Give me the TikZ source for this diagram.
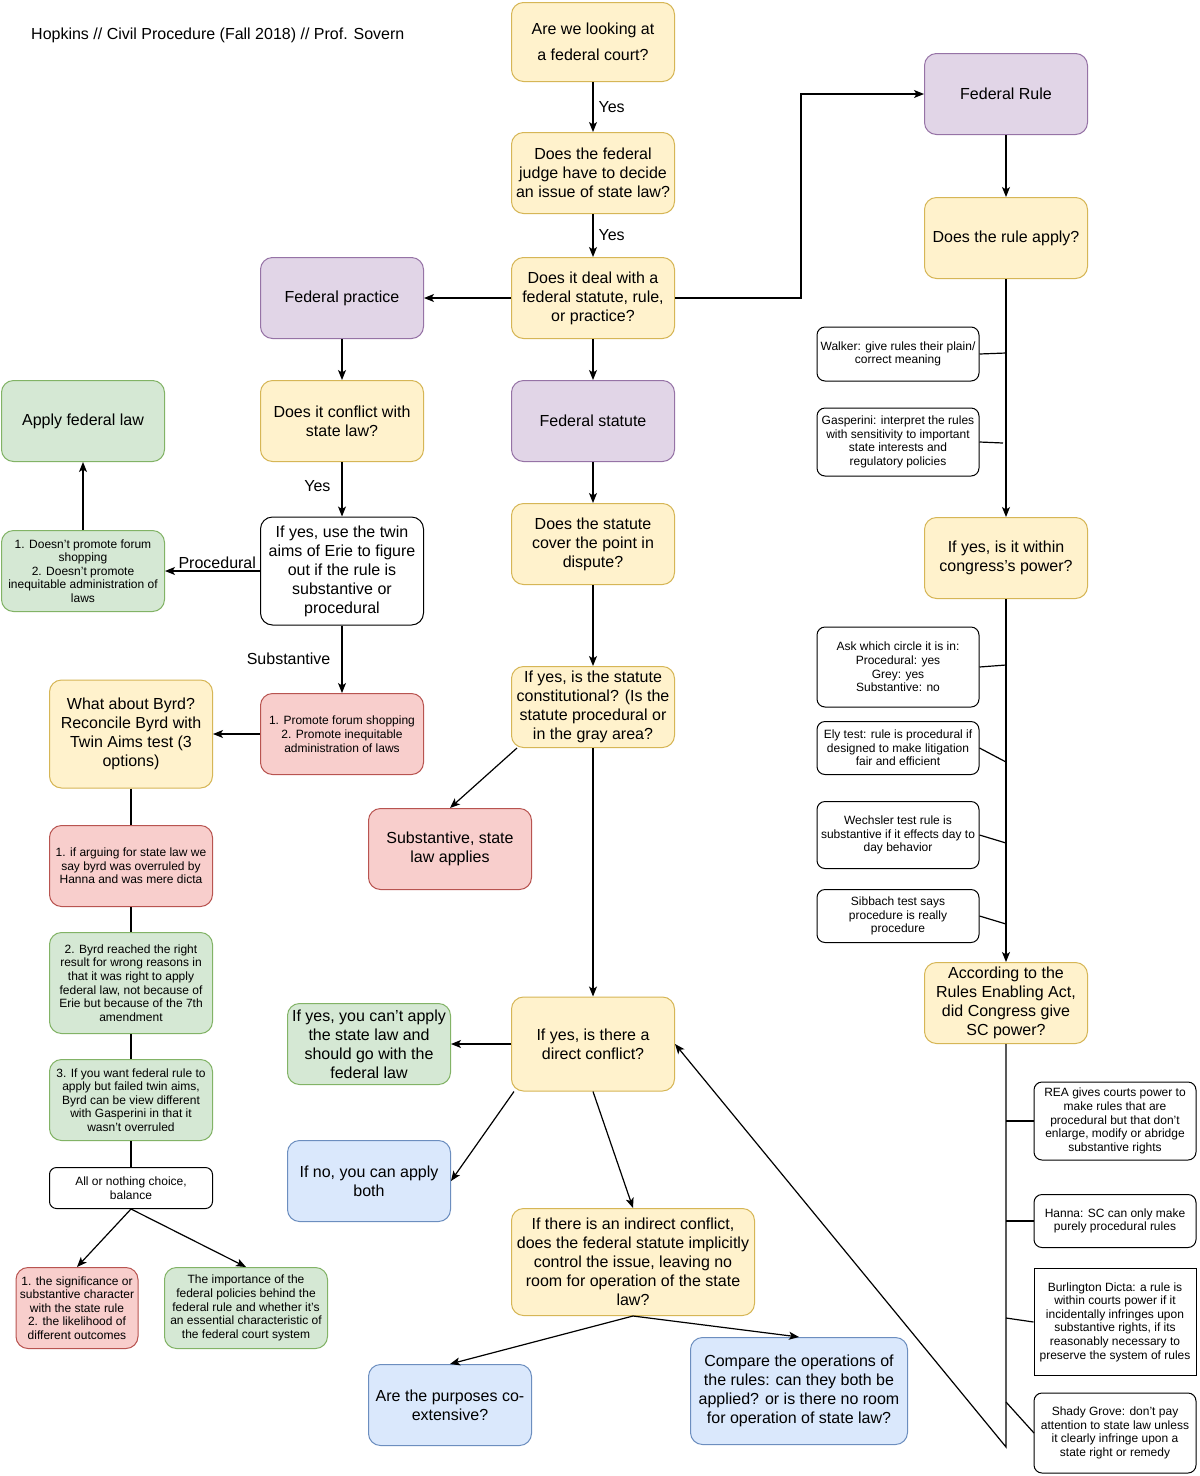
\documentclass[tikz,border=0pt]{standalone}
\usepackage{fontspec}
\setmainfont{Liberation Sans}
\usetikzlibrary{arrows.meta}
\definecolor{yfill}{HTML}{FFF2CC}\definecolor{ystroke}{HTML}{D6B656}
\definecolor{pfill}{HTML}{E1D5E7}\definecolor{pstroke}{HTML}{9673A6}
\definecolor{gfill}{HTML}{D5E8D4}\definecolor{gstroke}{HTML}{82B366}
\definecolor{rfill}{HTML}{F8CECC}\definecolor{rstroke}{HTML}{B85450}
\definecolor{bfill}{HTML}{DAE8FC}\definecolor{bstroke}{HTML}{6C8EBF}
\tikzset{
  box/.style={rounded corners=12, draw, line width=1, minimum width=163, minimum height=81, align=center, inner sep=2, font=\fontsize{16}{19}\selectfont},
  yel/.style={box, fill=yfill, draw=ystroke},
  pur/.style={box, fill=pfill, draw=pstroke},
  grn/.style={box, fill=gfill, draw=gstroke},
  red/.style={box, fill=rfill, draw=rstroke},
  blu/.style={box, fill=bfill, draw=bstroke},
  wht/.style={box, fill=white, draw=black},
  small/.style={font=\fontsize{12}{13.6}\selectfont},
  note/.style={rounded corners=8, draw=black, fill=white, line width=1, minimum width=162, align=center, inner sep=2, font=\fontsize{12}{13.6}\selectfont},
  arr/.style={line width=1.2, -{Stealth[length=10pt,width=8pt,inset=2.5pt]}},
  ln/.style={line width=1.2},
  lbl/.style={font=\fontsize{16}{18}\selectfont, inner sep=1}
}
\begin{document}
\begin{tikzpicture}[x=1pt,y=-1pt]
\useasboundingbox (0,0) rectangle (1200,1476);
\fill[white] (0,0) rectangle (1200,1476);
\node[lbl, anchor=west] (title) at (30,35) {Hopkins // Civil Procedure (Fall 2018) // Prof. Sovern};

% center column
\node[yel, minimum height=79] (q1) at (593,42) {Are we looking at\\[7pt]a federal court?};
\node[yel] (q2) at (593,173) {Does the federal\\judge have to decide\\an issue of state law?};
\node[yel] (q3) at (593,298) {Does it deal with a\\federal statute, rule,\\or practice?};
\node[pur] (fs) at (593,421) {Federal statute};
\node[yel] (q4) at (593,544) {Does the statute\\cover the point in\\dispute?};
\node[yel] (q5) at (593,707) {If yes, is the statute\\constitutional? (Is the\\statute procedural or\\in the gray area?};
\node[yel, minimum height=94] (q6) at (593,1044) {If yes, is there a\\direct conflict?};
\node[yel, minimum width=243, minimum height=107] (q7) at (633,1262) {If there is an indirect conflict,\\does the federal statute implicitly\\control the issue, leaving no\\room for operation of the state\\law?};

% left-center column
\node[pur] (fp) at (342,298) {Federal practice};
\node[yel] (c1) at (342,421) {Does it conflict with\\state law?};
\node[wht, minimum height=108] (twin) at (342,571) {If yes, use the twin\\aims of Erie to figure\\out if the rule is\\substantive or\\procedural};
\node[red, font=\fontsize{12}{14}\selectfont] (prom) at (342,734) {1. Promote forum shopping\\2. Promote inequitable\\administration of laws};
\node[red] (subst) at (450,849) {Substantive, state\\law applies};
\node[grn] (yesg) at (369,1044) {If yes, you can't apply\\the state law and\\should go with the\\federal law};
\node[blu] (ifno) at (369,1181) {If no, you can apply\\both};
\node[blu] (purp) at (450,1405) {Are the purposes co-\\extensive?};
\node[blu, minimum width=217, minimum height=107] (comp) at (799,1391) {Compare the operations of\\the rules: can they both be\\applied? or is there no room\\for operation of state law?};

% far left column
\node[grn] (apply) at (83,421) {Apply federal law};
\node[grn, small] (doesnt) at (83,571) {1. Doesn't promote forum\\shopping\\2. Doesn't promote\\inequitable administration of\\laws};
\node[yel, minimum height=108] (byrd) at (131,734) {What about Byrd?\\Reconcile Byrd with\\Twin Aims test (3\\options)};
\node[red, small] (byrd1) at (131,866) {1. if arguing for state law we\\say byrd was overruled by\\Hanna and was mere dicta};
\node[grn, small, minimum height=101] (byrd2) at (131,983) {2. Byrd reached the right\\result for wrong reasons in\\that it was right to apply\\federal law, not because of\\Erie but because of the 7th\\amendment};
\node[grn, small] (byrd3) at (131,1100) {3. If you want federal rule to\\apply but failed twin aims,\\Byrd can be view different\\with Gasperini in that it\\wasn't overruled};
\node[wht, small, minimum height=41, rounded corners=7] (alln) at (131,1188) {All or nothing choice,\\balance};
\node[red, small, minimum width=122] (sig) at (77,1308) {1. the significance or\\substantive character\\with the state rule\\2. the likelihood of\\different outcomes};
\node[grn, small] (imp) at (246,1308) {The importance of the\\federal policies behind the\\federal rule and whether it's\\an essential characteristic of\\the federal court system};

% right column
\node[pur] (fr) at (1006,94) {Federal Rule};
\node[yel] (ra) at (1006,238) {Does the rule apply?};
\node[yel] (cong) at (1006,558) {If yes, is it within\\congress's power?};
\node[yel] (rea) at (1006,1003) {According to the\\Rules Enabling Act,\\did Congress give\\SC power?};

% notes
\node[note, minimum height=54] (walker) at (898,354) {Walker: give rules their plain/\\correct meaning};
\node[note, minimum height=68] (gasp) at (898,442) {Gasperini: interpret the rules\\with sensitivity to important\\state interests and\\regulatory policies};
\node[note, minimum height=80] (ask) at (898,667) {Ask which circle it is in:\\Procedural: yes\\Grey: yes\\Substantive: no};
\node[note, minimum height=53] (ely) at (898,748) {Ely test: rule is procedural if\\designed to make litigation\\fair and efficient};
\node[note, minimum height=67] (wech) at (898,835) {Wechsler test rule is\\substantive if it effects day to\\day behavior};
\node[note, minimum height=53] (sib) at (898,916) {Sibbach test says\\procedure is really\\procedure};
\node[note, minimum height=78] (reag) at (1115,1121) {REA gives courts power to\\make rules that are\\procedural but that don't\\enlarge, modify or abridge\\substantive rights};
\node[note, minimum height=53] (hanna) at (1115,1221) {Hanna: SC can only make\\purely procedural rules};
\node[note, rounded corners=0, minimum height=107] (burl) at (1115,1322) {Burlington Dicta: a rule is\\within courts power if it\\incidentally infringes upon\\substantive rights, if its\\reasonably necessary to\\preserve the system of rules};
\node[note, minimum height=80] (shady) at (1115,1433) {Shady Grove: don't pay\\attention to state law unless\\it clearly infringe upon a\\state right or remedy};

% coordinates
\coordinate (elb) at (801,200);
\coordinate (jw) at (1006,353);
\coordinate (jg) at (1003,443);
\coordinate (ja) at (1006,665);
\coordinate (je) at (1006,762);
\coordinate (jwe) at (1006,843);
\coordinate (js) at (1006,924);
\coordinate (jr) at (1006,1121);
\coordinate (jh) at (1006,1221);
\coordinate (jb) at (1006,1318);
\coordinate (jsh) at (1006,1402);
\coordinate (shin) at (1034,1433);
\coordinate (bot) at (1006,1447);

% center edges
\draw[arr] (q1) -- node[lbl, right=4pt] {Yes} (q2);
\draw[arr] (q2) -- node[lbl, right=4pt] {Yes} (q3);
\draw[arr] (q3) -- (fp);
\draw[arr] (q3.east) -| (elb) |- (fr.west);
\draw[arr] (q3) -- (fs);
\draw[arr] (fs) -- (q4);
\draw[arr] (q4) -- (q5);
\draw[arr] ([xshift=6]q5.south west) -- (subst.north);
\draw[arr] (q5) -- (q6);
\draw[arr] (q6) -- (yesg);
\draw[arr] ([xshift=3]q6.south west) -- (ifno.east);
\draw[arr] (q6.south) -- (q7.north);
\draw[arr] (q7.south) -- (purp.north);
\draw[arr] (q7.south) -- (comp.north);

% left edges
\draw[arr] (fp) -- (c1);
\draw[arr] (c1) -- node[lbl, pos=0.45, left=10pt] {Yes} (twin);
\draw[arr] (twin) -- node[lbl, above=1pt, pos=0.45] {Procedural} (doesnt);
\draw[arr] (doesnt) -- (apply);
\draw[arr] (twin) -- node[lbl, pos=0.5, left=10pt] {Substantive} (prom);
\draw[arr] (prom) -- (byrd);
\draw[ln] (byrd) -- (byrd1);
\draw[ln] (byrd1) -- (byrd2);
\draw[ln] (byrd2) -- (byrd3);
\draw[ln] (byrd3) -- (alln);
\draw[arr] (alln.south) -- (sig.north);
\draw[arr] (alln.south) -- (imp.north);

% right edges
\draw[arr] (fr) -- (ra);
\draw[arr] (ra) -- (cong);
\draw[arr] (cong) -- (rea);
\draw[arr] (rea.south) -- (bot) -- (q6.east);
\draw[ln] (walker.east) -- (jw);
\draw[ln] (gasp.east) -- (jg);
\draw[ln] (ask.east) -- (ja);
\draw[ln] (ely.east) -- (je);
\draw[ln] (wech.east) -- (jwe);
\draw[ln] (sib.east) -- (js);
\draw[ln] (jr) -- (reag.west);
\draw[ln] (jh) -- (hanna.west);
\draw[ln] (jb) -- (burl.west);
\draw[ln] (jsh) -- (shin);
\end{tikzpicture}
\end{document}
